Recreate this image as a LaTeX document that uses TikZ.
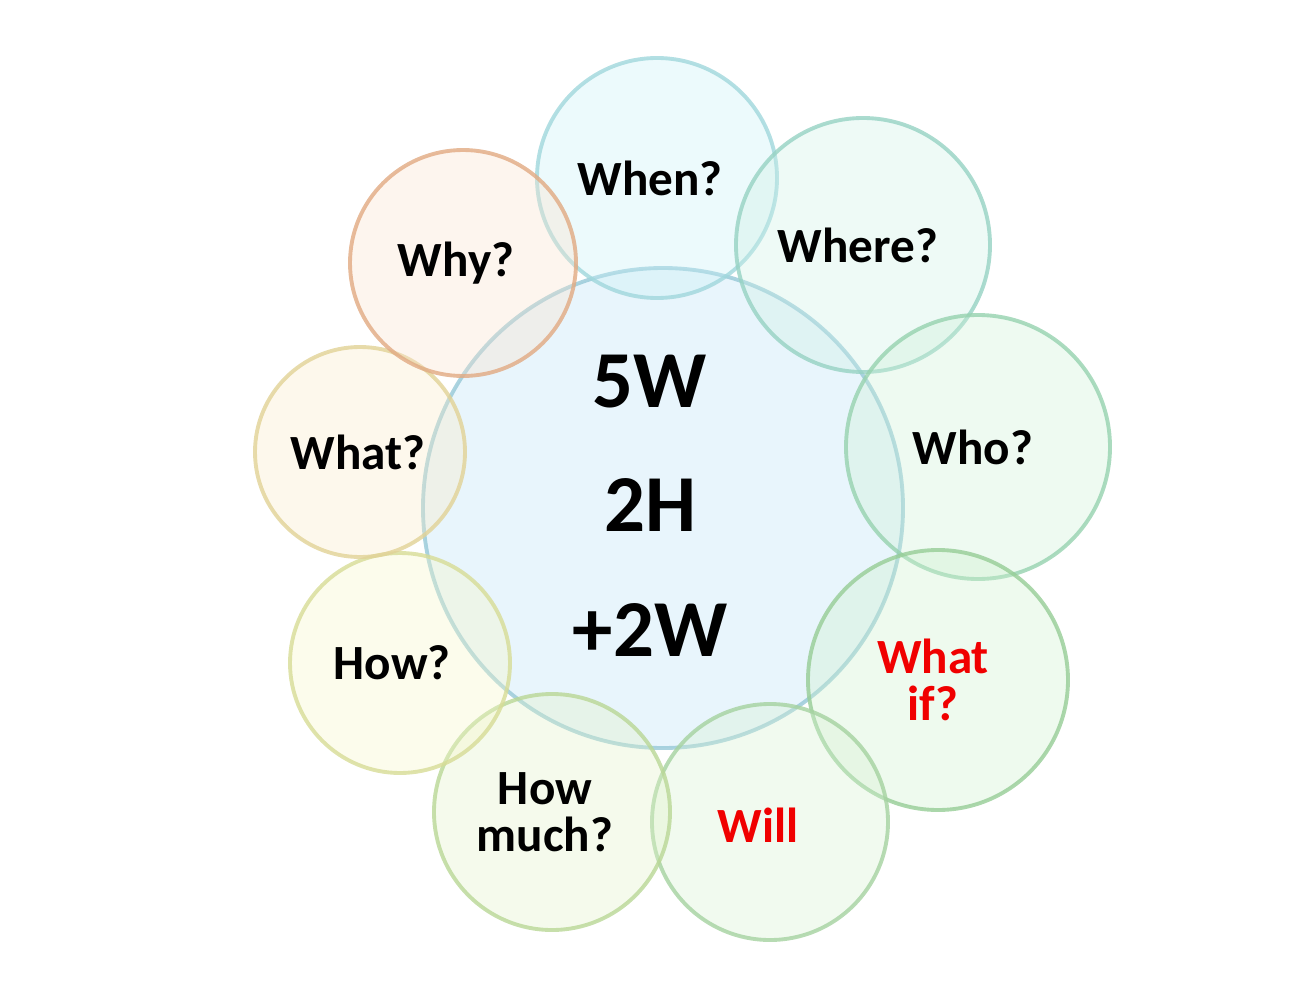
\documentclass[tikz,border=0pt]{standalone}
\usepackage{fontspec}
\setmainfont{Carlito}
\begin{document}
\begin{tikzpicture}[x=0.02cm,y=-0.02cm,
  bub/.style={circle,line width=2.2pt,draw opacity=0.8,fill opacity=0.35,inner sep=0pt},
  lab/.style={font=\bfseries\fontsize{28}{33}\selectfont,align=center,text=black},
  red/.style={text={rgb,255:red,240;green,0;blue,0}}]
\useasboundingbox (0,0) rectangle (1301,997);
\definecolor{cc}{RGB}{190,225,245}
\node[bub,minimum size=480*0.02cm,draw={rgb,255:red,150;green,200;blue,215},fill=cc] (c) at (663,508) {};
\node[bub,minimum size=240*0.02cm,draw={rgb,255:red,160;green,215;blue,220},fill={rgb,255:red,200;green,240;blue,245}] (wn) at (657,178) {};
\node[bub,minimum size=254*0.02cm,draw={rgb,255:red,150;green,210;blue,195},fill={rgb,255:red,205;green,240;blue,230}] (wr) at (863,245) {};
\node[bub,minimum size=264*0.02cm,draw={rgb,255:red,150;green,210;blue,175},fill={rgb,255:red,205;green,240;blue,215}] (wo) at (978,447) {};
\node[bub,minimum size=260*0.02cm,draw={rgb,255:red,150;green,205;blue,150},fill={rgb,255:red,205;green,240;blue,205}] (wi) at (938,680) {};
\node[bub,minimum size=236*0.02cm,draw={rgb,255:red,165;green,210;blue,160},fill={rgb,255:red,215;green,240;blue,210}] (wl) at (770,822) {};
\node[bub,minimum size=236*0.02cm,draw={rgb,255:red,185;green,215;blue,150},fill={rgb,255:red,225;green,242;blue,200}] (hm) at (552,812) {};
\node[bub,minimum size=220*0.02cm,draw={rgb,255:red,215;green,220;blue,150},fill={rgb,255:red,245;green,245;blue,200}] (hw) at (400,663) {};
\node[bub,minimum size=210*0.02cm,draw={rgb,255:red,225;green,210;blue,150},fill={rgb,255:red,250;green,235;blue,200}] (wt) at (360,452) {};
\node[bub,minimum size=226*0.02cm,draw={rgb,255:red,225;green,170;blue,130},fill={rgb,255:red,250;green,225;blue,205}] (wy) at (463,263) {};
\node[lab] (t1) at (650,178) {When?};
\node[lab] (t2) at (858,245) {Where?};
\node[lab] (t3) at (973,447) {Who?};
\node[lab,red] (t4) at (933,680) {What\\[-6pt]if?};
\node[lab,red] (t5) at (758,825) {Will};
\node[lab] (t6) at (545,812) {How\\[-6pt]much?};
\node[lab] (t7) at (392,663) {How?};
\node[lab] (t8) at (358,452) {What?};
\node[lab] (t9) at (456,263) {Why?};
\node[font=\bfseries\fontsize{46}{52}\selectfont] (m1) at (650,382) {5W};
\node[font=\bfseries\fontsize{46}{52}\selectfont] (m2) at (650,505) {2H};
\node[font=\bfseries\fontsize{46}{52}\selectfont] (m3) at (650,630) {+2W};
\end{tikzpicture}
\end{document}
